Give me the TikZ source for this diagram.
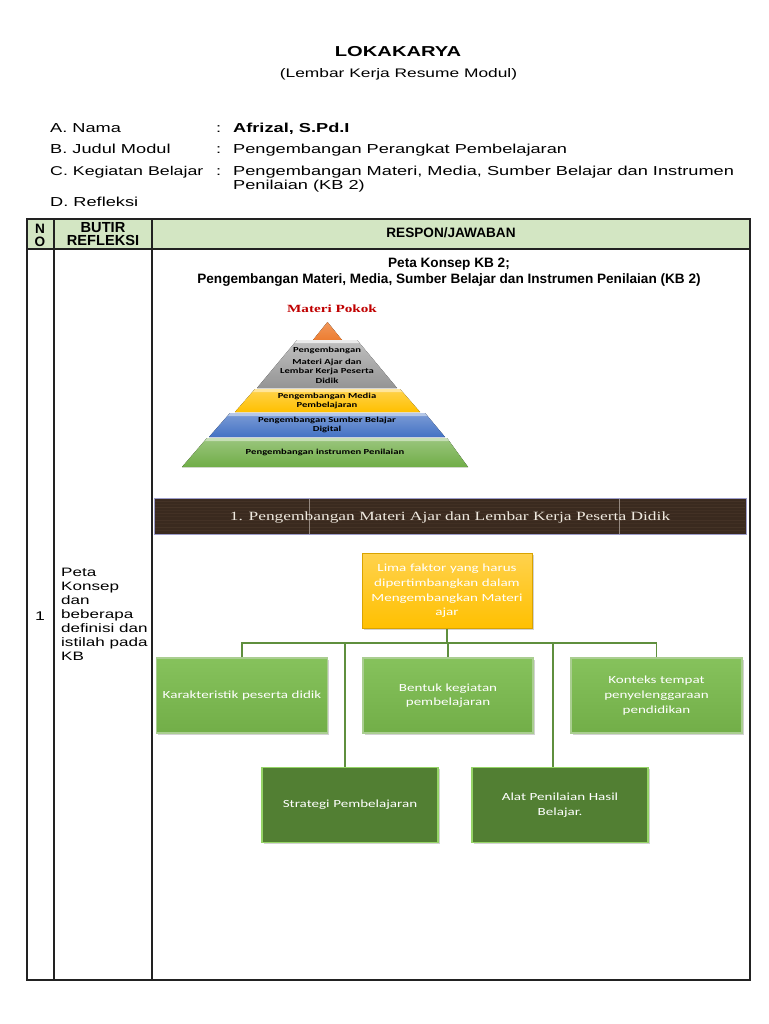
\documentclass[tikz,border=0pt]{standalone}
\usepackage{fontspec}
\setmainfont{Liberation Sans}[FakeStretch=1.40]
\newfontfamily\narrowf{Liberation Sans}[FakeStretch=1.0]
\newfontfamily\calf{Carlito}[FakeStretch=1.38]
\newfontfamily\serf{Liberation Serif}[FakeStretch=1.38]
\usetikzlibrary{shadows}
\definecolor{hdrgreen}{HTML}{D3E6C3}
\definecolor{tblline}{HTML}{222222}
\definecolor{conngreen}{HTML}{5F8F3E}
\definecolor{upgreen}{HTML}{72AE48}
\definecolor{upgreenlt}{HTML}{86C25C}
\definecolor{dkgreen}{HTML}{527F33}
\definecolor{brightgreen}{HTML}{95D466}
\definecolor{ylw}{HTML}{FFC000}
\definecolor{ylwlt}{HTML}{FFD24D}
\definecolor{pyorange}{HTML}{ED7D31}
\definecolor{pygray}{HTML}{A5A5A5}
\definecolor{pyblue}{HTML}{4472C4}
\definecolor{pygreen}{HTML}{70AD47}
\definecolor{wood}{HTML}{3A2A1F}
\definecolor{woodlt}{HTML}{4E3B2D}
\definecolor{woodtxt}{HTML}{F0EAE0}
\definecolor{pokred}{HTML}{C00000}
\tikzset{
  lbl/.style={anchor=base west, inner sep=0pt, font=\fontsize{13}{14}\selectfont},
  hdr/.style={inner sep=0pt, align=center, font=\narrowf\bfseries\fontsize{13.6}{13}\selectfont},
  pytxt/.style={inner sep=0pt, align=center, font=\calf\bfseries\fontsize{7.7}{9.4}\selectfont, text=black},
  orgbox/.style={rectangle, inner sep=2pt, align=center, text=white,
     font=\calf\fontsize{10.9}{14.6}\selectfont, minimum height=75pt,
     drop shadow={shadow xshift=1.5pt, shadow yshift=-1.5pt, opacity=.35}},
  upbox/.style={orgbox, top color=upgreenlt, bottom color=upgreen, draw=upgreen!60!white, line width=1.2pt},
  lowbox/.style={orgbox, fill=dkgreen, draw=brightgreen, line width=1.6pt},
  topbox/.style={orgbox, top color=ylwlt, bottom color=ylw, draw=ylw!85!black, line width=1pt},
  conn/.style={draw=conngreen, line width=1.3pt},
  tbl/.style={draw=tblline, line width=1.1pt},
}
\begin{document}
\begin{tikzpicture}[x=1pt,y=-1pt]
\useasboundingbox (0,0) rectangle (768,1024);
\fill[white] (0,0) rectangle (768,1024);

% title
\node[anchor=base, inner sep=0pt, font=\bfseries\fontsize{14.4}{16}\selectfont] (title) at (398,57) {LOKAKARYA};
\node[anchor=base, inner sep=0pt, font=\fontsize{12.4}{14}\selectfont] (subtitle) at (398.5,78) {(Lembar Kerja Resume Modul)};

% identity rows
\node[lbl] (la) at (50,133) {A. Nama};
\node[lbl] (ca) at (216,133) {:};
\node[lbl, font=\bfseries\fontsize{13}{14}\selectfont] (va) at (233,133) {Afrizal, S.Pd.I};
\node[lbl] (lb) at (50,154) {B. Judul Modul};
\node[lbl] (cb) at (216,154) {:};
\node[lbl] (vb) at (233,154) {Pengembangan Perangkat Pembelajaran};
\node[lbl, font=\fontsize{12.7}{14}\selectfont] (lc) at (50,176) {C. Kegiatan Belajar};
\node[lbl] (cc) at (216,176) {:};
\node[lbl] (vc1) at (233,176) {Pengembangan Materi, Media, Sumber Belajar dan Instrumen};
\node[lbl] (vc2) at (233,189.5) {Penilaian (KB 2)};
\node[lbl] (ld) at (50,207) {D. Refleksi};

% table
\fill[hdrgreen] (27,219) rectangle (750,249);
\draw[tbl] (27,219) rectangle (750,980);
\draw[tbl] (27,249) -- (750,249);
\draw[tbl] (54,219) -- (54,980);
\draw[tbl] (152,219) -- (152,980);

\node[hdr] (hno) at (40,235) {N\\O};
\node[hdr, font=\narrowf\bfseries\fontsize{14.6}{13}\selectfont] (hbutir) at (103,234) {BUTIR\\REFLEKSI};
\node[hdr] (hrespon) at (451,233) {RESPON/JAWABAN};

\node[anchor=base, inner sep=0pt, font=\fontsize{12.6}{14}\selectfont] (num) at (40,620) {1};
\node[anchor=north west, inner sep=0pt, align=left, font=\fontsize{12.2}{14}\selectfont] (butir) at (61,568)
  {Peta\\Konsep\\dan\\beberapa\\definisi dan\\istilah pada\\KB};

\node[hdr] (petakonsep) at (449,272) {Peta Konsep KB 2;\\[3pt]Pengembangan Materi, Media, Sumber Belajar dan Instrumen Penilaian (KB 2)};

% pyramid
\node[inner sep=0pt, font=\serf\bfseries\fontsize{11}{12}\selectfont, text=pokred] (pokok) at (332,309) {Materi Pokok};
\fill[top color=pyorange!80!white, bottom color=pyorange] (313,340) -- (327.5,322) -- (342,340) -- cycle;
\fill[top color=pygray!70!white, bottom color=pygray!90!black] (297,340) -- (357,340) -- (397,388) -- (257,388) -- cycle;
\fill[white, opacity=.7] (297,340) -- (357,340) -- (359,343) -- (295,343) -- cycle;
\fill[top color=ylw!70!white, bottom color=ylw] (255,389) -- (400,389) -- (420,412) -- (235,412) -- cycle;
\fill[white, opacity=.45] (255,389) -- (400,389) -- (402,392) -- (253,392) -- cycle;
\fill[top color=pyblue!70!white, bottom color=pyblue] (230,413) -- (425,413) -- (445,437) -- (209,437) -- cycle;
\fill[white, opacity=.45] (230,413) -- (425,413) -- (427,416) -- (228,416) -- cycle;
\fill[top color=pygreen!70!white, bottom color=pygreen] (207,438) -- (447,438) -- (468,467) -- (182,467) -- cycle;
\fill[white, opacity=.45] (207,438) -- (447,438) -- (449,441) -- (205,441) -- cycle;

\node[pytxt] (pyg) at (327,365) {Pengembangan\\[3pt]Materi Ajar dan\\Lembar Kerja Peserta\\Didik};
\node[pytxt] (pyy) at (327,401) {Pengembangan Media\\Pembelajaran};
\node[pytxt] (pyb) at (327,425) {Pengembangan Sumber Belajar\\Digital};
\node[pytxt] (pygr) at (325,452) {Pengembangan instrumen Penilaian};

% banner
\fill[wood] (154,498) rectangle (746,534);
\foreach \yy/\op in {501/.5,504/.35,507/.6,510/.3,513/.45,516/.3,520/.5,523/.35,527/.55,530/.4}{
  \draw[woodlt, opacity=\op, line width=.5pt] (155,\yy) -- (745,\yy);
}
\draw[woodlt!60!white, line width=.6pt] (309,498) -- (309,534);
\draw[woodlt!60!white, line width=.6pt] (619,498) -- (619,534);
\draw[draw=gray!70!blue!60!white, line width=.8pt] (154,498) rectangle (746,534);
\node[inner sep=0pt, font=\serf\fontsize{12.6}{14}\selectfont, text=woodtxt] (banner) at (450,517)
  {1. Pengembangan Materi Ajar dan Lembar Kerja Peserta Didik};

% org chart
\node[topbox, minimum width=170pt, text width=160pt] (top) at (447,591) {Lima faktor yang harus\\dipertimbangkan dalam\\Mengembangkan Materi\\ajar};
\node[upbox, minimum width=171pt, text width=165pt] (b1) at (242,695.5) {Karakteristik peserta didik};
\node[upbox, minimum width=170pt, text width=160pt] (b2) at (448,695.5) {Bentuk kegiatan\\pembelajaran};
\node[upbox, minimum width=171pt, text width=160pt] (b3) at (656.5,695.5) {Konteks tempat\\penyelenggaraan\\pendidikan};
\node[lowbox, minimum width=176pt, text width=165pt] (b4) at (350,805) {Strategi Pembelajaran};
\node[lowbox, minimum width=176pt, text width=165pt] (b5) at (560,805) {Alat Penilaian Hasil\\Belajar.};

\coordinate (bus) at (448,643);
\coordinate (j4) at (345,643);
\coordinate (j5) at (553,643);
\draw[conn] (top.south) -- (top.south |- bus);
\draw[conn] (b1.north) -- (b1.north |- bus) -- (b3.north |- bus) -- (b3.north);
\draw[conn] (b2.north |- bus) -- (b2.north);
\draw[conn] (j4) -- (j4 |- b4.north);
\draw[conn] (j5) -- (j5 |- b5.north);
\end{tikzpicture}
\end{document}
